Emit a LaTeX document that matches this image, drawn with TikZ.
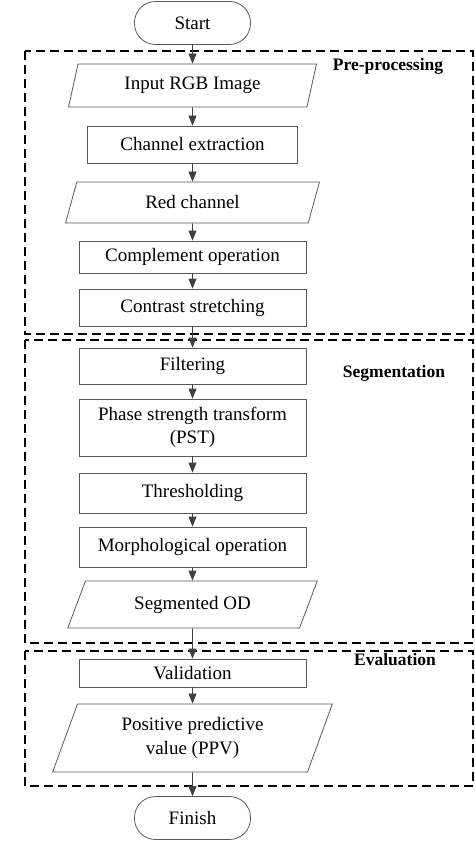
\documentclass[tikz,border=0pt]{standalone}
\usepackage{fontspec}
\setmainfont{Liberation Serif}
\usetikzlibrary{shapes.geometric,arrows.meta}

\begin{document}
\begin{tikzpicture}
  [x=1pt,y=-1pt,
   every node/.style={draw=black!65,line width=0.8pt,inner sep=1pt,align=center,
     font=\fontsize{19}{23.5}\selectfont},
   proc/.style={rectangle,minimum width=227pt},
   io/.style 2 args={trapezium,trapezium left angle=#1,trapezium right angle=#2,
     trapezium stretches=true},
   term/.style={rectangle,rounded corners=21pt,minimum width=116pt,minimum height=43pt},
   stage/.style={draw=none,font=\fontsize{17.5}{20}\selectfont\bfseries},
   group/.style={dash pattern=on 9pt off 5pt,line width=1.5pt},
   flow/.style={draw=black!75,line width=0.8pt,-{Triangle[length=10pt,width=8pt]}}]
  \useasboundingbox (0,0) rectangle (474,850);

  % stage frames
  \draw[group] (25,51) rectangle (473,334);
  \draw[group] (25,340) rectangle (473,643);
  \draw[group] (25,651) rectangle (473,786);
  \node[stage] (lpre) at (388,66)  {Pre-processing};
  \node[stage] (lseg) at (394,373) {Segmentation};
  \node[stage] (leva) at (395,660) {Evaluation};

  \node[term] (start) at (192.5,23)  {Start};
  \node[io={73}{107},minimum width=248pt,minimum height=43pt] (rgb) at (192.5,85.5) {Input RGB Image};
  \node[proc,minimum width=210pt,minimum height=37pt] (chan) at (192.5,144.5) {Channel extraction};
  \node[io={73}{107},minimum width=254pt,minimum height=41pt] (red) at (192.5,202.5) {Red channel};
  \node[proc,minimum height=32pt] (comp) at (192.5,257) {Complement operation};
  \node[proc,minimum height=37pt] (cont) at (192.5,307.5) {Contrast stretching};
  \node[proc,minimum height=36pt] (filt) at (192.5,366) {Filtering};
  \node[proc,minimum height=57pt] (pst) at (192.5,427.5) {Phase strength transform\\(PST)};
  \node[proc,minimum height=40pt] (thr) at (192.5,493) {Thresholding};
  \node[proc,minimum height=40pt] (morph) at (192.5,547) {Morphological operation};
  \node[io={63}{117},minimum width=250pt,minimum height=47pt] (segod) at (192.5,604.5) {Segmented OD};
  \node[proc,minimum height=28pt] (valid) at (192.5,673) {Validation};
  \node[io={70}{110},minimum width=280pt,minimum height=68pt] (ppv) at (192.5,738) {Positive predictive\\value (PPV)};
  \node[term] (finish) at (192.5,818) {Finish};

  \foreach \from/\to in {start/rgb,rgb/chan,chan/red,red/comp,comp/cont,cont/filt,
      filt/pst,pst/thr,thr/morph,morph/segod,segod/valid,valid/ppv,ppv/finish}
    \draw[flow] (\from) -- (\to);
\end{tikzpicture}
\end{document}
